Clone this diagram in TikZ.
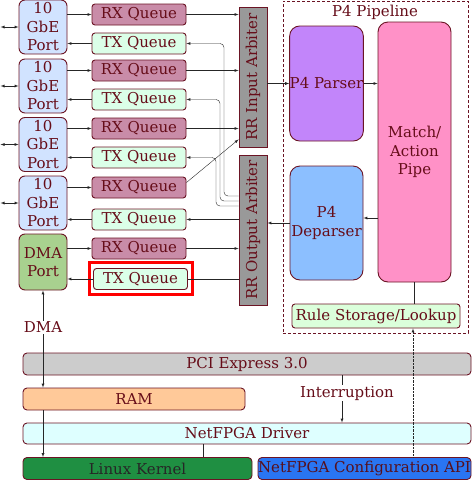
\documentclass[tikz,border=0pt]{standalone}
\usepackage{fontspec}
\setmainfont{DejaVu Serif}
\definecolor{viini}{rgb}{0.42, 0.08, 0.14}
\definecolor{teksti}{rgb}{0.40, 0.05, 0.10}
\definecolor{portti}{rgb}{0.82, 0.89, 1.00}
\definecolor{dmavihrea}{rgb}{0.66, 0.82, 0.56}
\definecolor{malva}{rgb}{0.79, 0.55, 0.66}
\definecolor{minttu}{rgb}{0.86, 1.00, 0.91}
\definecolor{harmaa}{rgb}{0.60, 0.60, 0.60}
\definecolor{violetti}{rgb}{0.76, 0.52, 0.98}
\definecolor{pinkki}{rgb}{1.00, 0.57, 0.78}
\definecolor{taivas}{rgb}{0.55, 0.75, 1.00}
\definecolor{vaalvihrea}{rgb}{0.86, 1.00, 0.86}
\definecolor{pcihar}{rgb}{0.80, 0.80, 0.80}
\definecolor{persikka}{rgb}{1.00, 0.79, 0.60}
\definecolor{jaa}{rgb}{0.87, 1.00, 1.00}
\definecolor{kernel}{rgb}{0.12, 0.56, 0.26}
\definecolor{apisin}{rgb}{0.16, 0.46, 0.95}
\tikzset{
  laatikko/.style={draw=viini, line width=0.9pt, text=teksti, inner sep=0pt, align=center},
  porttibox/.style={laatikko, fill=portti, rounded corners=6pt, minimum width=48pt, minimum height=54pt},
  rxbox/.style={laatikko, fill=malva, rounded corners=3pt, minimum width=94pt, minimum height=21pt},
  txbox/.style={laatikko, fill=minttu, rounded corners=3pt, minimum width=94pt, minimum height=21pt},
  arbbox/.style={laatikko, fill=harmaa, rotate=90, minimum height=28pt},
  isobox/.style={laatikko, rounded corners=10pt, minimum width=73pt},
  palkki/.style={laatikko, rounded corners=4pt, minimum height=22pt},
  yhteys/.style={draw=black!85, -latex},
}
\begin{document}
\begin{tikzpicture}[x=1pt, y=-1pt, font=\fontsize{15}{18.5}\selectfont]
  \useasboundingbox (0,0) rectangle (474,480);
  % portit
  \node[porttibox] (p1) at (43,27) {10\\GbE\\Port};
  \node[porttibox] (p2) at (43,86) {10\\GbE\\Port};
  \node[porttibox] (p3) at (43,144.5) {10\\GbE\\Port};
  \node[porttibox] (p4) at (43,203) {10\\GbE\\Port};
  \node[porttibox, fill=dmavihrea, minimum height=56pt] (dma) at (43,262) {DMA\\Port};
  % jonot
  \node[rxbox] (rx1) at (139,14.5) {RX Queue};
  \node[txbox] (tx1) at (139,43.5) {TX Queue};
  \node[rxbox] (rx2) at (139,70.5) {RX Queue};
  \node[txbox] (tx2) at (139,99.5) {TX Queue};
  \node[rxbox] (rx3) at (139,128.5) {RX Queue};
  \node[txbox] (tx3) at (139,157.5) {TX Queue};
  \node[rxbox] (rx4) at (139,187.5) {RX Queue};
  \node[txbox] (tx4) at (139,219.5) {TX Queue};
  \node[rxbox] (rx5) at (139,248.5) {RX Queue};
  \node[txbox] (tx5) at (140.5,279) {TX Queue};
  \node[draw=red, line width=3.5pt, minimum width=103pt, minimum height=32pt] (korostus) at (141,278.5) {};
  % arbitterit
  \node[arbbox, minimum width=140pt] (inarb) at (253,77) {RR Input Arbiter};
  \node[arbbox, minimum width=150pt] (outarb) at (253,230) {RR Output Arbiter};
  % P4-putki
  \node[draw=viini, densely dashed, minimum width=185pt, minimum height=332pt] (putki) at (375.5,167) {};
  \node[text=teksti] (putkinimi) at (375,12) {P4 Pipeline};
  \node[isobox, fill=violetti, minimum height=115pt] (parser) at (326.5,83.5) {P4 Parser};
  \node[isobox, fill=pinkki, minimum height=260pt] (match) at (414.5,152) {Match/\\Action\\Pipe};
  \node[isobox, fill=taivas, minimum height=114pt] (deparser) at (326.5,223) {P4\\Deparser};
  \node[laatikko, fill=vaalvihrea, rounded corners=3pt, minimum width=168pt, minimum height=24pt] (rule) at (376,316) {Rule Storage/Lookup};
  % alaosa
  \node[palkki, fill=pcihar, minimum width=448pt] (pci) at (247,364) {PCI Express 3.0};
  \node[palkki, fill=persikka, minimum width=222pt] (ram) at (134,399) {RAM};
  \node[palkki, fill=jaa, minimum width=448pt, minimum height=21pt] (driver) at (247,433.5) {NetFPGA Driver};
  \node[palkki, fill=kernel, text=black!85, minimum width=229pt] (kernel) at (137.5,468.5) {Linux Kernel};
  \node[palkki, fill=apisin, text=viini!80!black, minimum width=213pt] (api) at (364.5,468.5) {NetFPGA Configuration API};
  % yhteydet porteille
  \foreach \p in {p1,p2,p3,p4}
    \draw[yhteys, latex-latex] (\p.west) -- ++(-18,0);
  \draw[yhteys] (p1.east |- rx1.west) -- (rx1.west);
  \draw[yhteys] (tx1.west) -- (tx1.west -| p1.east);
  \draw[yhteys] (p2.east |- rx2.west) -- (rx2.west);
  \draw[yhteys] (tx2.west) -- (tx2.west -| p2.east);
  \draw[yhteys] (p3.east |- rx3.west) -- (rx3.west);
  \draw[yhteys] (tx3.west) -- (tx3.west -| p3.east);
  \draw[yhteys] (p4.east |- rx4.west) -- (rx4.west);
  \draw[yhteys] (tx4.west) -- (tx4.west -| p4.east);
  \draw[yhteys] (dma.east |- rx5.west) -- (rx5.west);
  \draw[yhteys] (tx5.west) -- (tx5.west -| dma.east);
  % jonot ja arbitterit
  \draw[yhteys] (rx1.east) -- (rx1.east -| inarb.north);
  \draw[yhteys] (rx2.east) -- (rx2.east -| inarb.north);
  \draw[yhteys] (rx3.east) -- (rx3.east -| inarb.north);
  \draw[yhteys] ([yshift=5pt]rx4.east) -- ([yshift=8pt]inarb.north west);
  \draw[yhteys] (rx5.east) -- (rx5.east -| outarb.north);
  \draw[yhteys, rounded corners=4pt] (outarb.north |- 0,196) -| (224,43.5) -- (tx1.east);
  \draw[yhteys, rounded corners=4pt] (outarb.north |- 0,201) -| (220,99.5) -- (tx2.east);
  \draw[yhteys, rounded corners=4pt] (outarb.north |- 0,206) -| (216,157.5) -- (tx3.east);
  \draw[yhteys] (tx4.east -| outarb.north) -- (tx4.east);
  \draw[draw=black!85] (tx5.east -| outarb.north) -- (tx5.east);
  % putken sisalla
  \draw[yhteys] (inarb.south |- parser.west) -- (parser.west);
  \draw[yhteys] (parser.east) -- (parser.east -| match.west);
  \draw[yhteys] (match.west |- 0,218) -- (deparser.east |- 0,218);
  \draw[yhteys] (deparser.west) -- (deparser.west -| outarb.south);
  \draw[black!85, line width=1.5pt] (match.south) -- (match.south |- rule.north);
  % isanta
  \draw[yhteys, latex-latex] (dma.south) -- (dma.south |- ram.north)
    node[pos=0.38, fill=white, text=teksti, inner sep=1pt] (dmanimi) {DMA};
  \draw[yhteys] (dma.south |- ram.south) -- (dma.south |- kernel.north);
  \draw[yhteys] (pci.south -| 342,0) -- (driver.north -| 342,0)
    node[pos=0.38, fill=white, text=teksti, inner sep=1pt, xshift=5pt] (keskeytys) {Interruption};
  \draw[black!85] (driver.south -| 203,0) -- (kernel.north -| 203,0);
  \draw[yhteys, densely dotted] (api.north -| 413,0) -- (rule.south -| 413,0);
\end{tikzpicture}
\end{document}
